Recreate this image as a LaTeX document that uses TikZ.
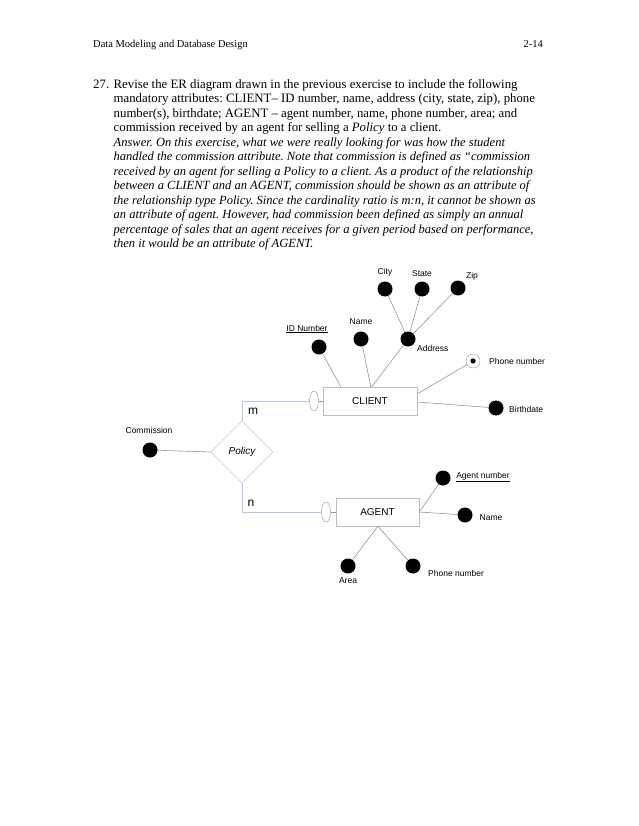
\documentclass[tikz,border=0pt]{standalone}
\usepackage{fontspec}
\usepackage{xcolor}
\setmainfont{Liberation Serif}
\newfontfamily\diagfont{Liberation Sans}
\usetikzlibrary{positioning, shapes.geometric}

\definecolor{linegray}{RGB}{150,150,150}
\definecolor{boxgray}{RGB}{190,190,190}
\definecolor{linkblue}{RGB}{175,200,232}
\frenchspacing
\newcommand{\answerfont}{\itshape\fontsize{12.5}{14.5}\selectfont}

\begin{document}
\begin{tikzpicture}[
    x=1pt, y=-1pt, % page coordinates, y grows downwards
    every node/.style={font={\diagfont\fontsize{8.5}{10}\selectfont}, inner sep=1pt},
    attr/.style={circle, fill=black, minimum size=15pt, inner sep=0pt}, % single valued attribute
    mvattr/.style={circle, draw=linegray, fill=white, minimum size=14pt, inner sep=0pt,
      path picture={\fill[black] (path picture bounding box.center) circle (2.6pt);}}, % multivalued
    entity/.style={draw=boxgray, minimum height=28pt, inner sep=0pt,
      font={\diagfont\fontsize{10}{12}\selectfont}},
    part/.style={ellipse, draw=linegray, minimum width=9pt, minimum height=20pt, inner sep=0pt},
    rel/.style={diamond, draw=boxgray, minimum width=62pt, minimum height=62pt, inner sep=0pt,
      font={\diagfont\itshape\fontsize{10}{12}\selectfont}},
    conn/.style={draw=linegray, line width=0.6pt},
    link/.style={draw=linkblue, line width=0.6pt},
    card/.style={font={\diagfont\fontsize{12}{14}\selectfont}},
    body/.style={font={\fontsize{12.8}{14.5}\selectfont}, inner sep=0pt}
  ]

  \fill[white] (0,0) rectangle (638,826);
  \useasboundingbox (0,0) rectangle (638,826);

  % page text
  \node[body, font={\fontsize{10.5}{12}\selectfont}, anchor=base west] (head) at (93,47.5) {Data Modeling and Database Design};
  \node[body, font={\fontsize{10.5}{12}\selectfont}, anchor=base east] (pageno) at (543,47.5) {2-14};
  \node[body, align=left, anchor=north west] (question) at (113.5,79) {%
    \llap{\makebox[20.5pt][l]{27.}}Revise the ER diagram drawn in the previous exercise to include the following\\
    mandatory attributes: CLIENT– ID number, name, address (city, state, zip), phone\\
    number(s), birthdate; AGENT – agent number, name, phone number, area; and\\
    commission received by an agent for selling a \textit{Policy} to a client.\\
    \answerfont Answer. On this exercise, what we were really looking for was how the student\\
    \answerfont handled the commission attribute. Note that commission is defined as “commission\\
    \answerfont received by an agent for selling a Policy to a client. As a product of the relationship\\
    \answerfont between a CLIENT and an AGENT, commission should be shown as an attribute of\\
    \answerfont the relationship type Policy. Since the cardinality ratio is m:n, it cannot be shown as\\
    \answerfont an attribute of agent. However, had commission been defined as simply an annual\\
    \answerfont percentage of sales that an agent receives for a given period based on performance,\\
    \answerfont then it would be an attribute of AGENT.};

  % entities and relationship
  \node[entity, minimum width=94pt] (client) at (370,401) {CLIENT};
  \node[entity, minimum width=83pt] (agent) at (377.5,512) {AGENT};
  \node[rel] (policy) at (242,452) {Policy};
  \node[part] (cliov) at (314,401) {};
  \node[part] (agov) at (326,512) {};

  % CLIENT attributes
  \node[attr] (citydot) at (385,289) {};
  \node[attr] (statedot) at (422,289) {};
  \node[attr] (zipdot) at (458,288) {};
  \node[attr] (namedot) at (361,339) {};
  \node[attr] (iddot) at (319,347) {};
  \node[attr] (addrdot) at (408,339) {};
  \node[mvattr] (phone) at (473,361) {};
  \node[attr] (birthdot) at (496,408) {};

  \node[above=3.5pt of citydot] (city) {City};
  \node[above=3.5pt of statedot] (state) {State};
  \node (zip) at (472,276) {Zip};
  \node (name) at (361,322) {Name};
  \node (idnum) at (307,329) {\underline{ID Number}};
  \node[anchor=west] (addr) at (416,348) {Address};
  \node[anchor=west] (phonelbl) at (488,361) {Phone number};
  \node[anchor=west] (birth) at (508,409) {Birthdate};

  % AGENT attributes
  \node[attr] (agnodot) at (443,478) {};
  \node[attr] (agnamedot) at (465,515) {};
  \node[attr] (areadot) at (348,566) {};
  \node[attr] (agphdot) at (413,566) {};

  \node (agno) at (483,477) {\underline{Agent number}};
  \node (agname) at (491,518) {Name};
  \node[below=3pt of areadot] (area) {Area};
  \node[anchor=west] (agph) at (427,573) {Phone number};

  % relationship attribute
  \node[attr] (comdot) at (150,450) {};
  \node (com) at (149,430) {Commission};

  % cardinalities
  \node[card] (m) at (253,411) {m};
  \node[card] (n) at (251,503) {n};

  % connectors
  \draw[conn] (iddot) -- ([xshift=18pt]client.north west);
  \draw[conn] (namedot) -- ([xshift=48pt]client.north west);
  \draw[conn] (addrdot) -- ([xshift=49pt]client.north west);
  \draw[conn] (citydot) -- (addrdot);
  \draw[conn] (statedot) -- (addrdot);
  \draw[conn] (zipdot) -- (addrdot);
  \draw[conn] ([yshift=7pt]client.east) -- (phone);
  \draw[conn] ([yshift=-1pt]client.east) -- (birthdot);
  \draw[conn] (cliov) -- (client);
  \draw[link] (cliov.west) -| (policy.north);
  \draw[conn] (comdot) -- (policy.west);
  \draw[link] (policy.south) |- (agov.west);
  \draw[conn] (agov) -- (agent);
  \draw[conn] (agent.east) -- (agnodot);
  \draw[conn] (agent.east) -- (agnamedot);
  \draw[conn] ([xshift=42pt]agent.south west) -- (areadot);
  \draw[conn] ([xshift=42pt]agent.south west) -- (agphdot);

\end{tikzpicture}
\end{document}
